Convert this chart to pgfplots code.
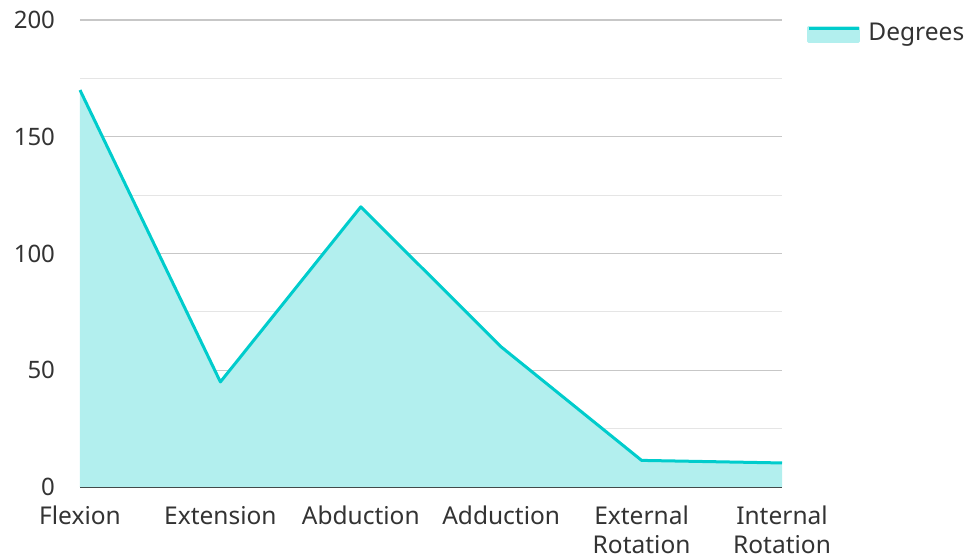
\documentclass[border=0pt]{standalone}
\usepackage{pgfplots}
\pgfplotsset{compat=1.18}
\usepackage{fontspec}
\setmainfont{Noto Sans}
\definecolor{linecol}{HTML}{00CCCC}
\definecolor{fillcol}{HTML}{B2EFEE}
\definecolor{txt}{HTML}{333333}
\begin{document}
\begin{tikzpicture}
\begin{axis}[
    name=main,
    anchor=south west,
    scale only axis, width=702pt, height=467pt,
    xmin=0, xmax=5, ymin=0, ymax=200,
    xtick={0,1,2,3,4,5},
    xticklabels={\strut Flexion,\strut Extension,\strut Abduction,\strut Adduction,
        \strut External\\Rotation,\strut Internal\\Rotation},
    xticklabel style={align=center, text=txt, font=\fontsize{24.5pt}{29pt}\selectfont,
        anchor=north, yshift=-14pt},
    ytick={0,50,100,150,200},
    minor ytick={25,75,125,175},
    yticklabel style={text=txt, font=\fontsize{24pt}{29pt}\selectfont, anchor=east, xshift=-21.5pt},
    /pgf/number format/assume math mode=true,
    ymajorgrids, yminorgrids,
    major grid style={draw=black!22, line width=1.2pt},
    minor grid style={draw=black!10, line width=1.2pt},
    axis lines=left,
    axis line style={-},
    y axis line style={draw=none},
    x axis line style={draw=txt, line width=2pt},
    major tick length=0pt,
    minor tick length=0pt,
    clip=false,
    legend style={at={(1.036,0.97)}, anchor=west, draw=none, fill=none,
        font=\fontsize{24.5pt}{29pt}\selectfont, text=txt,
        legend cell align=left, inner sep=0pt,
        nodes={inner sep=0pt, text height=18pt, text depth=5pt},
        /tikz/every odd column/.append style={column sep=8pt}},
    legend image code/.code={
        \fill[fillcol] (0pt,-7pt) rectangle (50pt,7pt);
        \draw[linecol, line width=3pt] (0pt,5.5pt) -- (50pt,5.5pt);
    },
]
\addplot[draw=none, fill=fillcol, forget plot] coordinates {
    (0,170) (1,45) (2,120) (3,60) (4,11.4) (5,10.3)
} \closedcycle;
\addplot[draw=linecol, line width=3pt, line join=round] coordinates {
    (0,170) (1,45) (2,120) (3,60) (4,11.4) (5,10.3)
};
\addlegendentry{Degrees}
\end{axis}
\useasboundingbox (-80pt,-71pt) rectangle (888pt,487pt);
\end{tikzpicture}
\end{document}
